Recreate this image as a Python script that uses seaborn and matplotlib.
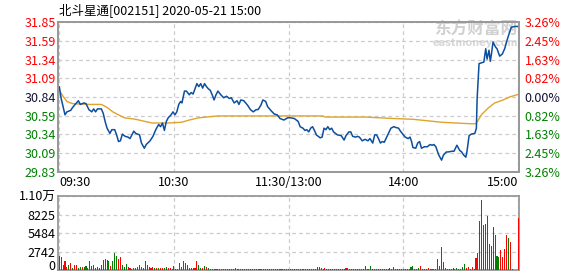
import numpy as np
import pandas as pd
import matplotlib
matplotlib.use("Agg")
import matplotlib.pyplot as plt
import seaborn as sns

sns.set_style("white")
plt.rcParams["font.family"] = ["Noto Sans CJK SC", "DejaVu Sans"]

# ---------------- data ----------------
TITLE = "北斗星通[002151] 2020-05-21 15:00"
PRE_CLOSE = 30.84

price_min = [0, 1, 3, 4, 6, 7, 9, 10, 11, 13,
             14, 15.5, 17, 18, 19, 20, 22, 23, 24, 25,
             26.5, 27.5, 29, 30, 31, 32, 33, 34.5, 36, 37,
             39, 40, 42, 43, 44.5, 45.5, 47.5, 49, 50.5, 52,
             53, 54, 55, 56, 57, 58.5, 59.5, 60.5, 61.5, 62.5,
             63.5, 64.2, 65.5, 66.5, 68, 69, 70, 71, 72, 73,
             74, 75, 76, 77, 78, 79, 80, 81, 82, 83,
             84.5, 86, 87.5, 89, 90, 91.5, 93, 94, 95, 96.5,
             98.5, 100, 101.5, 103, 104, 105.5, 106.5, 108, 109, 111,
             112.5, 114, 115.5, 117.5, 119.5, 121, 123, 125, 126, 127.5,
             128.5, 129.5, 130.5, 131.5, 132.5, 133.5, 134.5, 135.5, 136.5, 137.5,
             138.5, 139.5, 140.5, 141.5, 142.5, 143.5, 145.5, 147.5, 149, 150,
             151.5, 152.5, 153.5, 155, 156, 157, 158.5, 160, 161.5, 162.5,
             164, 165, 166, 167, 168, 169, 170, 172, 173.5, 175,
             176, 177.5, 178.5, 180, 181, 182.5, 183.5, 184.3, 185, 186.5,
             187.5, 188.5, 189.5, 191, 192.5, 194, 195, 196, 197, 198.5,
             200, 201, 202.5, 203.5, 205.5, 206.5, 208, 209.5, 210.5, 211.5,
             212.7, 213.3, 214.4, 215.5, 217.4, 218.2, 218.6, 219.6, 220.8, 222.1,
             223.1, 223.8, 224.8, 225.5, 226.1, 226.9, 228.3, 229, 230.4, 231.8,
             233, 234.2, 235.3, 236.5, 238.3, 240]
price_val = [30.98, 30.82, 30.60, 30.64, 30.66, 30.70, 30.76, 30.79, 30.74, 30.76,
             30.75, 30.67, 30.64, 30.68, 30.64, 30.68, 30.68, 30.62, 30.51, 30.42,
             30.35, 30.40, 30.40, 30.33, 30.24, 30.25, 30.34, 30.31, 30.30, 30.28,
             30.38, 30.35, 30.33, 30.22, 30.15, 30.20, 30.25, 30.31, 30.40, 30.47,
             30.44, 30.49, 30.39, 30.51, 30.56, 30.60, 30.64, 30.60, 30.64, 30.74,
             30.78, 30.76, 30.92, 30.92, 30.87, 30.90, 30.88, 30.95, 31.02, 30.98,
             31.02, 30.96, 31.02, 30.98, 30.95, 30.93, 30.87, 30.80, 30.87, 30.92,
             30.87, 30.83, 30.85, 30.82, 30.83, 30.76, 30.79, 30.74, 30.80, 30.79,
             30.73, 30.67, 30.64, 30.67, 30.67, 30.73, 30.80, 30.78, 30.71, 30.65,
             30.61, 30.60, 30.55, 30.53, 30.56, 30.56, 30.55, 30.51, 30.44, 30.42,
             30.39, 30.40, 30.37, 30.42, 30.44, 30.39, 30.33, 30.31, 30.29, 30.30,
             30.42, 30.40, 30.44, 30.40, 30.42, 30.37, 30.33, 30.32, 30.26, 30.32,
             30.37, 30.37, 30.31, 30.30, 30.31, 30.30, 30.25, 30.27, 30.25, 30.28,
             30.22, 30.33, 30.33, 30.28, 30.22, 30.24, 30.23, 30.34, 30.42, 30.44,
             30.43, 30.42, 30.38, 30.33, 30.30, 30.28, 30.30, 30.24, 30.16, 30.15,
             30.22, 30.24, 30.15, 30.17, 30.17, 30.20, 30.19, 30.20, 30.17, 30.06,
             29.99, 30.06, 30.10, 30.10, 30.11, 30.11, 30.19, 30.12, 30.10, 30.06,
             30.03, 30.11, 30.32, 30.34, 30.35, 30.42, 30.82, 31.29, 31.30, 31.31,
             31.49, 31.35, 31.47, 31.32, 31.42, 31.58, 31.51, 31.49, 31.39, 31.42,
             31.49, 31.60, 31.69, 31.78, 31.79, 31.79]

avg_min = [0, 2, 4, 7, 16, 22, 25, 28, 31, 34,
           40, 45, 48.5, 57, 64, 68, 73, 77, 83, 138,
           139, 160, 175, 185, 200, 215, 218, 219, 220.8, 224.3,
           227.8, 232.2, 235.6, 240]
avg_val = [30.93, 30.85, 30.78, 30.75, 30.74, 30.74, 30.70, 30.64, 30.60, 30.56,
           30.54, 30.51, 30.49, 30.49, 30.50, 30.53, 30.56, 30.57, 30.585, 30.585,
           30.57, 30.57, 30.55, 30.54, 30.50, 30.48, 30.48, 30.52, 30.60, 30.69,
           30.76, 30.80, 30.84, 30.875]

vol = [2180, 2020, 800, 1420, 450, 800, 1110, 300, 800, 800,
       300, 450, 450, 560, 660, 300, 1420, 660, 800, 300,
       450, 300, 800, 1580, 1730, 1580, 1330, 660, 1330, 2480,
       2180, 1730, 1990, 800, 560, 960, 450, 300, 150, 300,
       300, 450, 800, 450, 300, 1420, 800, 450, 300, 450,
       300, 300, 300, 300, 300, 300, 450, 300, 300, 150,
       660, 150, 150, 1110, 450, 1420, 1060, 800, 300, 300,
       300, 300, 1420, 800, 300, 400, 660, 450, 300, 150,
       150, 150, 150, 150, 150, 150, 150, 150, 150, 150,
       150, 150, 300, 150, 150, 150, 150, 150, 150, 150,
       150, 150, 150, 150, 150, 150, 150, 150, 150, 150,
       150, 150, 150, 150, 150, 150, 150, 150, 150, 150,
       150, 150, 150, 150, 150, 150, 150, 150, 150, 150,
       150, 150, 150, 150, 150, 450, 500, 300, 150, 300,
       150, 150, 150, 150, 150, 150, 150, 150, 150, 150,
       300, 300, 150, 150, 150, 150, 150, 150, 150, 150,
       660, 150, 150, 660, 150, 150, 150, 150, 150, 150,
       150, 150, 150, 300, 150, 450, 150, 150, 150, 150,
       150, 150, 150, 150, 450, 660, 150, 150, 300, 660,
       150, 150, 150, 300, 150, 150, 150, 150, 1730, 660,
       3400, 1260, 300, 150, 150, 150, 300, 150, 300, 150,
       150, 500, 960, 300, 500, 150, 500, 150, 1880, 2480,
       7350, 10400, 6640, 6900, 7970, 3850, 3550, 6440, 5220, 2180,
       2020, 2940, 2020, 3090, 5220, 4770, 4160, 150, 0, 0,
       7660]
vol_dir = ("gggrrgrgrr" "ggrggrgrrg" "rrgggggrgg" "grrgggrrrg" "grggrgrrrr"
           "grgrrggrrr" "rgrrrrrggr" "rrrggrgrgg" "grgggrrrgr" "gggrrgrrrr"
           "ggrgggrrgg" "grgggrrrgr" "rrggrrgggg" "grgggggrrr" "ggrggggrgr"
           "rggrrrgrgg" "grgggggrgg" "grgrgrrggg" "gggggggrgr" "grgrgrgrgg"
           "grrrrrrggr" "gggrrgrgrr" "rrrrggrrgg" "grrrrgrrrrr")

time_ticks = [0, 60, 120, 180, 240]
time_labels = ["09:30", "10:30", "11:30/13:00", "14:00", "15:00"]
price_ticks = [31.85, 31.59, 31.34, 31.09, 30.84, 30.59, 30.34, 30.09, 29.83]
pct_labels = ["3.26%", "2.45%", "1.63%", "0.82%", "0.00%", "0.82%", "1.63%", "2.45%", "3.26%"]
vol_ticks = [0, 2742, 5484, 8225, 10967]
vol_labels = ["0", "2742", "5484", "8225", "1.10万"]

# ---------------- style ----------------
RED = "#FF0000"
GREEN = "#008000"
BLUE = "#0D4F9E"
ORANGE = "#E0A32C"
GRID = "#CCCCCC"
FRAME = "#999999"
FS = 9

W, H = 578, 276
fig = plt.figure(figsize=(W / 100, H / 100), dpi=100, facecolor="white")
ax = fig.add_axes([58.3 / W, 1 - 172 / H, 460.7 / W, 150 / H])
axv = fig.add_axes([58.3 / W, 1 - 270.3 / H, 460.7 / W, 74.3 / H])

dash = (0, (3, 2.5))

# watermark
ax.text(0.905, 0.945, "东方财富网", transform=ax.transAxes, ha="center", va="center",
        fontsize=12, fontweight="bold", color="#D0D0D0", zorder=0)
ax.text(0.905, 0.86, "eastmoney.com", transform=ax.transAxes, ha="center", va="center",
        fontsize=7, fontweight="bold", color="#D8D8D8", zorder=0, family=["DejaVu Sans"])

sns.lineplot(x=avg_min, y=avg_val, ax=ax, color=ORANGE, lw=1.0, zorder=3)
sns.lineplot(x=price_min, y=price_val, ax=ax, color=BLUE, lw=1.1, zorder=4)

ax.set_xlim(-0.5, 240.5)
ax.set_ylim(29.83, 31.85)
ax.set_yticks(price_ticks)
ax.set_yticklabels([f"{v:.2f}" for v in price_ticks])
ax.set_xticks(time_ticks)
ax.set_xticklabels(time_labels)
ax.grid(True, ls=dash, color=GRID, lw=0.9)
ax.tick_params(length=0, labelsize=FS, pad=2)
ax.tick_params(axis="x", pad=3, colors="black")
xl = ax.get_xticklabels()
xl[0].set_ha("left")
xl[-1].set_ha("right")
for lab, v in zip(ax.get_yticklabels(), price_ticks):
    lab.set_color(RED if v > PRE_CLOSE + 1e-9 else (GREEN if v < PRE_CLOSE - 1e-9 else "#111133"))
ax.set_xlabel("")
ax.set_ylabel("")

axr = ax.twinx()
axr.set_ylim(ax.get_ylim())
axr.set_yticks(price_ticks)
axr.set_yticklabels(pct_labels)
axr.tick_params(length=0, labelsize=FS, pad=4)
for lab, v in zip(axr.get_yticklabels(), price_ticks):
    lab.set_color(RED if v > PRE_CLOSE + 1e-9 else (GREEN if v < PRE_CLOSE - 1e-9 else "#111133"))

for a in (ax, axr, axv):
    for s in a.spines.values():
        s.set_color(FRAME)
        s.set_linewidth(1.3)

# volume: one seaborn barplot per colour, explicit face and edge colours
df = pd.DataFrame({"minute": np.arange(len(vol)), "vol": vol, "dir": list(vol_dir)})
for key, col in (("r", RED), ("g", GREEN)):
    sub = df[df["dir"] == key]
    sns.barplot(data=sub, x="minute", y="vol", native_scale=True, width=0.55,
                errorbar=None, color=col, saturation=1, facecolor=col, edgecolor=col,
                linewidth=0, antialiased=False, ax=axv, zorder=3)
axv.set_xlim(-0.5, 240.5)
axv.set_ylim(0, 10967)
axv.set_xticks(time_ticks)
axv.set_xticklabels([])
axv.set_yticks(vol_ticks)
axv.set_yticklabels(["", *vol_labels[1:]])
axv.grid(True, ls=dash, color=GRID, lw=0.9)
axv.set_axisbelow(True)
axv.tick_params(length=0, labelsize=FS, pad=2, colors="black")
axv.set_xlabel("")
axv.set_ylabel("")
# bottom "0" label placed by baseline so it stays inside the canvas
axv.text(-2.6 / 460.7, 0, vol_labels[0], transform=axv.get_yaxis_transform(),
         ha="right", va="baseline", fontsize=FS, color="black")

fig.text(59 / W, 1 - 10 / H, TITLE, ha="left", va="center", fontsize=FS, color="black")

fig.savefig("out.png", dpi=100, facecolor="white")
